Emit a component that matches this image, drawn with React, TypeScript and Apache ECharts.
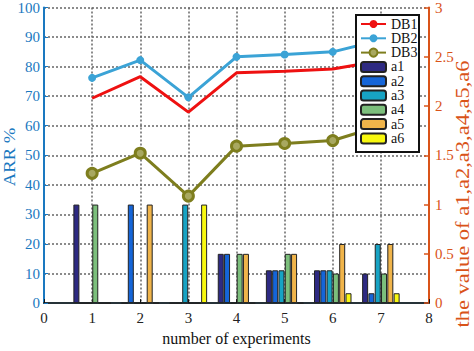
import React, { useEffect, useRef } from "react";
import * as echarts from "echarts";

const xs = [1, 2, 3, 4, 5, 6, 7];
const db1 = [69.3, 76.6, 64.6, 77.9, 78.4, 79.2, 82.0];
const db2 = [76.2, 82.2, 69.6, 83.3, 84.1, 85.0, 89.0];
const db3 = [43.9, 50.7, 36.2, 53.1, 54.0, 55.0, 60.0];
const a1 = [1, 0, 0, 0.5, 0.333, 0.333, 0.3];
const a2 = [0, 1, 0, 0.5, 0.333, 0.333, 0.1];
const a3 = [0, 0, 1, 0, 0.333, 0.333, 0.6];
const a4 = [1, 0, 0, 0.5, 0.5, 0.3, 0.3];
const a5 = [0, 1, 0, 0.5, 0.5, 0.6, 0.6];
const a6 = [0, 0, 1, 0, 0, 0.1, 0.1];
const barNames = ["a1", "a2", "a3", "a4", "a5", "a6"];
const barValues = [a1, a2, a3, a4, a5, a6];
const barColors = ["#2e2a82", "#1565d8", "#17a3c4", "#7cbf7c", "#f0b44a", "#f8f80f"];

const FONT = "'Liberation Serif', 'Times New Roman', serif";
const BLUE = "#1a78c0";
const ORANGE = "#d95319";

export default function App() {
  const ref = useRef<HTMLDivElement>(null);
  useEffect(() => {
    if (!ref.current) return;
    const chart = echarts.init(ref.current, undefined, { renderer: "svg" });
    const pair = (arr: number[]) => xs.map((x, i) => [x, arr[i]]);
    const lineSeries: any[] = [
      {
        name: "DB1",
        type: "line",
        yAxisIndex: 0,
        data: pair(db1),
        symbol: "none",
        lineStyle: { color: "#ee1111", width: 3 },
        itemStyle: { color: "#ee1111" },
        z: 5,
      },
      {
        name: "DB2",
        type: "line",
        yAxisIndex: 0,
        data: pair(db2),
        symbol: "circle",
        symbolSize: 8,
        lineStyle: { color: "#3ba3d6", width: 3 },
        itemStyle: { color: "#3ba3d6" },
        z: 5,
      },
      {
        name: "DB3",
        type: "line",
        yAxisIndex: 0,
        data: pair(db3),
        symbol: "circle",
        symbolSize: 10,
        lineStyle: { color: "#7e7e1e", width: 3 },
        itemStyle: { color: "#a8a860", borderColor: "#7e7e1e", borderWidth: 3 },
        z: 5,
      },
    ];
    const barSeries = barNames.map((n, k) => ({
      name: n,
      type: "bar",
      yAxisIndex: 1,
      data: pair(barValues[k]),
      barWidth: 6,
      barGap: "5%",
      itemStyle: { color: barColors[k], borderColor: "#222", borderWidth: 1 },
      z: 2,
    }));
    chart.setOption({
      animation: false,
      grid: { left: 44, right: 45, top: 5, bottom: 42, containLabel: false },
      legend: {
        orient: "vertical",
        left: 357,
        top: 17,
        padding: [0, 0, 0, 3],
        itemWidth: 25,
        itemHeight: 10,
        itemGap: 0.3,
        z: 12,
        textStyle: { fontFamily: FONT, fontSize: 14, color: "#111" },
        data: ["DB1", "DB2", "DB3", ...barNames],
      },
      xAxis: {
        type: "value",
        min: 0,
        max: 8,
        interval: 1,
        name: "number of experiments",
        nameLocation: "middle",
        nameGap: 23,
        nameTextStyle: { fontFamily: FONT, fontSize: 16, color: "#111" },
        axisLine: { show: true, lineStyle: { color: "#263238", width: 2 } },
        axisTick: { show: true, inside: true, length: 4, lineStyle: { color: "#111" } },
        axisLabel: { fontFamily: FONT, fontSize: 15, color: "#222", margin: 7 },
        splitLine: { show: true, lineStyle: { color: "#666", type: [2, 2], width: 1.5 } },
      },
      yAxis: [
        {
          type: "value",
          min: 0,
          max: 100,
          interval: 10,
          position: "left",
          axisLine: { show: true, lineStyle: { color: BLUE, width: 2 } },
          axisTick: { show: true, inside: true, length: 4, lineStyle: { color: BLUE } },
          axisLabel: { fontFamily: FONT, fontSize: 15, color: BLUE, margin: 4 },
          splitLine: { show: true, lineStyle: { color: "#666", type: [2, 2], width: 1.5 } },
        },
        {
          type: "value",
          min: 0,
          max: 3,
          interval: 0.5,
          position: "right",
          axisLine: { show: true, lineStyle: { color: ORANGE, width: 2 } },
          axisTick: { show: true, inside: true, length: 5, lineStyle: { color: ORANGE, width: 1.5 } },
          axisLabel: { fontFamily: FONT, fontSize: 15, color: ORANGE, margin: 6 },
          splitLine: { show: false },
        },
      ],
      graphic: [
        {
          type: "rect",
          z: 11,
          shape: { x: 356, y: 15, width: 63, height: 137 },
          style: { fill: "#fff", stroke: "#111", lineWidth: 2 },
        },
        {
          type: "text",
          x: 9,
          y: 157,
          rotation: Math.PI / 2,
          scaleX: 1.1,
          style: {
            text: "ARR %",
            fontFamily: FONT,
            fontSize: 17,
            fill: BLUE,
            align: "center",
            verticalAlign: "middle",
          },
        },
        {
          type: "text",
          x: 463,
          y: 194,
          rotation: Math.PI / 2,
          scaleX: 1.25,
          style: {
            text: "the value of a1,a2,a3,a4,a5,a6",
            fontFamily: FONT,
            fontSize: 18,
            fill: ORANGE,
            align: "center",
            verticalAlign: "middle",
          },
        },
      ],
      series: [...barSeries, ...lineSeries],
    });
    return () => chart.dispose();
  }, []);
  return <div ref={ref} style={{ width: 474, height: 351, position: "absolute", left: 0, top: 0 }} />;
}
